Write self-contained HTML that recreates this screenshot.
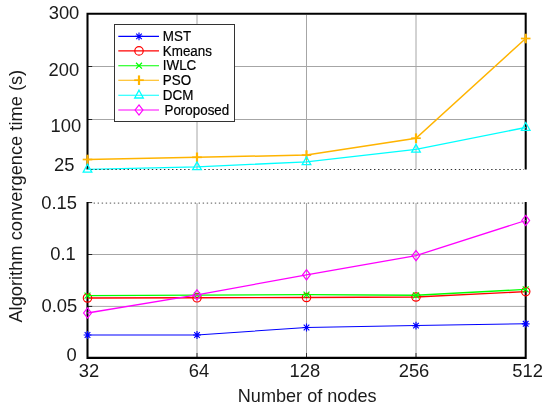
<!DOCTYPE html>
<html lang="en">
<head>
<meta charset="utf-8">
<title>Algorithm convergence time</title>
<style>
html,body{margin:0;padding:0;background:#fff;}
body{width:550px;height:410px;overflow:hidden;}
svg{display:block;}
text{font-family:"Liberation Sans",Arial,sans-serif;fill:#1a1a1a;}
.t{font-size:18px;}
.l{font-size:14.7px;fill:#000;stroke:#000;stroke-width:0.2px;}
</style>
</head>
<body>
<svg width="550" height="410" viewBox="0 0 550 410">
<rect width="550" height="410" fill="#fff"/>

<g stroke="#a6a6a6" stroke-width="1" fill="none">
<path d="M197.0,15V169.5M197.0,203V357"/>
<path d="M306.5,15V169.5M306.5,203V357"/>
<path d="M416.0,15V169.5M416.0,203V357"/>
<path d="M88,66.5H525"/>
<path d="M88,119.5H525"/>
<path d="M88,254.5H525"/>
<path d="M88,306.4H525"/>
</g>
<path d="M93.6,203.2H524" stroke="#777" stroke-width="1.3" stroke-dasharray="1.4 2.64" fill="none"/>
<path d="M197,353V357M306.5,353V357M416,353V357" stroke="#333" stroke-width="1" fill="none"/>
<path d="M88,66.5H92.2M88,119.5H92.2M88,254.5H92.2M88,306.4H92.2M88,202.6H92.2" stroke="#222" stroke-width="1" fill="none"/>
<path d="M87.5,169.6V13.8H525.7V169.6" stroke="#000" stroke-width="2.05" fill="none"/>
<path d="M87.5,202.1V357.85H525.7V202.1" stroke="#000" stroke-width="2.05" fill="none"/>
<polyline points="87.5,335 197,335 306.5,327.5 416,325.6 525.7,323.8" stroke="#0000ff" stroke-width="1.05" fill="none"/>
<path d="M83.6,335H91.4M87.5,331.1V338.9M84.7,332.2L90.3,337.8M84.7,337.8L90.3,332.2" stroke="#0000ff" stroke-width="1.15" fill="none"/>
<path d="M193.1,335H200.9M197,331.1V338.9M194.2,332.2L199.8,337.8M194.2,337.8L199.8,332.2" stroke="#0000ff" stroke-width="1.15" fill="none"/>
<path d="M302.6,327.5H310.4M306.5,323.6V331.4M303.7,324.7L309.3,330.3M303.7,330.3L309.3,324.7" stroke="#0000ff" stroke-width="1.15" fill="none"/>
<path d="M412.1,325.6H419.9M416,321.70000000000005V329.5M413.2,322.8L418.8,328.40000000000003M413.2,328.40000000000003L418.8,322.8" stroke="#0000ff" stroke-width="1.15" fill="none"/>
<path d="M521.8000000000001,323.8H529.6M525.7,319.90000000000003V327.7M522.9000000000001,321.0L528.5,326.6M522.9000000000001,326.6L528.5,321.0" stroke="#0000ff" stroke-width="1.15" fill="none"/>
<polyline points="87.5,298 197,297.8 306.5,297.5 416,297 525.7,291.6" stroke="#ff0000" stroke-width="1.4" fill="none"/>
<circle cx="87.5" cy="298" r="4.2" stroke="#ff0000" stroke-width="1.2" fill="none"/>
<circle cx="197" cy="297.8" r="4.2" stroke="#ff0000" stroke-width="1.2" fill="none"/>
<circle cx="306.5" cy="297.5" r="4.2" stroke="#ff0000" stroke-width="1.2" fill="none"/>
<circle cx="416" cy="297" r="4.2" stroke="#ff0000" stroke-width="1.2" fill="none"/>
<circle cx="525.7" cy="291.6" r="4.2" stroke="#ff0000" stroke-width="1.2" fill="none"/>
<polyline points="87.5,295.6 197,295.1 306.5,294.6 416,295.3 525.7,289.4" stroke="#00ff00" stroke-width="1.4" fill="none"/>
<path d="M84.55,292.65000000000003L90.45,298.55M84.55,298.55L90.45,292.65000000000003" stroke="#00ff00" stroke-width="1.2" fill="none"/>
<path d="M194.05,292.15000000000003L199.95,298.05M194.05,298.05L199.95,292.15000000000003" stroke="#00ff00" stroke-width="1.2" fill="none"/>
<path d="M303.55,291.65000000000003L309.45,297.55M303.55,297.55L309.45,291.65000000000003" stroke="#00ff00" stroke-width="1.2" fill="none"/>
<path d="M413.05,292.35L418.95,298.25M413.05,298.25L418.95,292.35" stroke="#00ff00" stroke-width="1.2" fill="none"/>
<path d="M522.75,286.45L528.6500000000001,292.34999999999997M522.75,292.34999999999997L528.6500000000001,286.45" stroke="#00ff00" stroke-width="1.2" fill="none"/>
<polyline points="87.5,159.5 197,157.3 306.5,155.1 416,138.2 525.7,38.5" stroke="#ffb400" stroke-width="1.5" fill="none"/>
<path d="M82.7,159.5H92.3" stroke="#ffb400" stroke-width="1.7" fill="none"/><path d="M87.5,154.7V164.3" stroke="#ffb400" stroke-width="2.2" fill="none"/>
<path d="M192.2,157.3H201.8" stroke="#ffb400" stroke-width="1.7" fill="none"/><path d="M197,152.5V162.10000000000002" stroke="#ffb400" stroke-width="2.2" fill="none"/>
<path d="M301.7,155.1H311.3" stroke="#ffb400" stroke-width="1.7" fill="none"/><path d="M306.5,150.29999999999998V159.9" stroke="#ffb400" stroke-width="2.2" fill="none"/>
<path d="M411.2,138.2H420.8" stroke="#ffb400" stroke-width="1.7" fill="none"/><path d="M416,133.39999999999998V143.0" stroke="#ffb400" stroke-width="2.2" fill="none"/>
<path d="M520.9000000000001,38.5H530.5" stroke="#ffb400" stroke-width="1.7" fill="none"/><path d="M525.7,33.7V43.3" stroke="#ffb400" stroke-width="2.2" fill="none"/>
<polyline points="87.5,169.3 197,166.9 306.5,161.8 416,149.4 525.7,127.5" stroke="#00ffff" stroke-width="1.3" fill="none"/>
<path d="M91.2,169.5H524" stroke="#333" stroke-width="1.2" stroke-dasharray="1.4 2.64" fill="none"/>
<path d="M87.5,164.3L91.8,172.10000000000002H83.2Z" stroke="#00ffff" stroke-width="1.3" fill="none"/>
<path d="M197,161.9L201.3,169.70000000000002H192.7Z" stroke="#00ffff" stroke-width="1.3" fill="none"/>
<path d="M306.5,156.8L310.8,164.60000000000002H302.2Z" stroke="#00ffff" stroke-width="1.3" fill="none"/>
<path d="M416,144.4L420.3,152.20000000000002H411.7Z" stroke="#00ffff" stroke-width="1.3" fill="none"/>
<path d="M525.7,122.5L530.0,130.3H521.4000000000001Z" stroke="#00ffff" stroke-width="1.3" fill="none"/>
<polyline points="87.5,313 197,294.9 306.5,274.8 416,255.6 525.7,220.5" stroke="#ff00ff" stroke-width="1.3" fill="none"/>
<path d="M87.5,307.9L91.4,313L87.5,318.1L83.6,313Z" stroke="#ff00ff" stroke-width="1.2" fill="none"/>
<path d="M197,289.79999999999995L200.9,294.9L197,300.0L193.1,294.9Z" stroke="#ff00ff" stroke-width="1.2" fill="none"/>
<path d="M306.5,269.7L310.4,274.8L306.5,279.90000000000003L302.6,274.8Z" stroke="#ff00ff" stroke-width="1.2" fill="none"/>
<path d="M416,250.5L419.9,255.6L416,260.7L412.1,255.6Z" stroke="#ff00ff" stroke-width="1.2" fill="none"/>
<path d="M525.7,215.4L529.6,220.5L525.7,225.6L521.8000000000001,220.5Z" stroke="#ff00ff" stroke-width="1.2" fill="none"/>
<rect x="114.5" y="24.5" width="120" height="97" fill="#fff" stroke="#333" stroke-width="1"/>
<path d="M118.3,36.4H159" stroke="#0000ff" stroke-width="1.1" fill="none"/>
<path d="M135.1,36.4H142.9M139,32.5V40.3M136.2,33.6L141.8,39.199999999999996M136.2,39.199999999999996L141.8,33.6" stroke="#0000ff" stroke-width="1.15" fill="none"/>
<text class="l" transform="translate(162.8,41.1) scale(0.912,1)">MST</text>
<path d="M118.3,50.9H159" stroke="#ff0000" stroke-width="1.1" fill="none"/>
<circle cx="139" cy="50.9" r="4.2" stroke="#ff0000" stroke-width="1.2" fill="none"/>
<text class="l" transform="translate(162.8,55.6) scale(0.912,1)">Kmeans</text>
<path d="M118.3,65.7H159" stroke="#00ff00" stroke-width="1.1" fill="none"/>
<path d="M136.05,62.75L141.95,68.65M136.05,68.65L141.95,62.75" stroke="#00ff00" stroke-width="1.2" fill="none"/>
<text class="l" transform="translate(162.8,70.4) scale(0.912,1)">IWLC</text>
<path d="M118.3,80.2H159" stroke="#ffb400" stroke-width="1.1" fill="none"/>
<path d="M134.2,80.2H143.8" stroke="#ffb400" stroke-width="1.7" fill="none"/><path d="M139,75.4V85.0" stroke="#ffb400" stroke-width="2.2" fill="none"/>
<text class="l" transform="translate(162.8,84.9) scale(0.912,1)">PSO</text>
<path d="M118.3,95.2H159" stroke="#00ffff" stroke-width="1.1" fill="none"/>
<path d="M139,90.2L143.3,98.0H134.7Z" stroke="#00ffff" stroke-width="1.3" fill="none"/>
<text class="l" transform="translate(162.8,99.9) scale(0.912,1)">DCM</text>
<path d="M118.3,110H159" stroke="#ff00ff" stroke-width="1.1" fill="none"/>
<path d="M139,104.9L142.9,110L139,115.1L135.1,110Z" stroke="#ff00ff" stroke-width="1.2" fill="none"/>
<text class="l" transform="translate(164.5,114.7) scale(0.912,1)">Poroposed</text>
<text class="t" transform="translate(64.0,19.3) scale(1.022,1)" text-anchor="middle">300</text>
<text class="t" transform="translate(63.9,76.0) scale(1.022,1)" text-anchor="middle">200</text>
<text class="t" transform="translate(65.9,132.29999999999998) scale(1.022,1)" text-anchor="middle">100</text>
<text class="t" transform="translate(64.3,170.85) scale(1.022,1)" text-anchor="middle">25</text>
<text class="t" transform="translate(59.1,208.85) scale(1.022,1)" text-anchor="middle">0.15</text>
<text class="t" transform="translate(63,260.0) scale(1.022,1)" text-anchor="middle">0.1</text>
<text class="t" transform="translate(59.3,312.3) scale(1.022,1)" text-anchor="middle">0.05</text>
<text class="t" transform="translate(71.5,361.2) scale(1.022,1)" text-anchor="middle">0</text>
<text class="t" transform="translate(89.0,377.2) scale(1.022,1)" text-anchor="middle">32</text>
<text class="t" transform="translate(198.9,377.2) scale(1.022,1)" text-anchor="middle">64</text>
<text class="t" transform="translate(304.8,377.2) scale(1.022,1)" text-anchor="middle">128</text>
<text class="t" transform="translate(414,377.2) scale(1.022,1)" text-anchor="middle">256</text>
<text class="t" transform="translate(527.6,377.2) scale(1.022,1)" text-anchor="middle">512</text>
<text class="t" transform="translate(307.2,401.6) scale(1.006,1)" text-anchor="middle">Number of nodes</text>
<text class="t" transform="translate(21.5,196.2) rotate(-90) scale(1.016,1)" text-anchor="middle">Algorithm convergence time (s)</text>
</svg>
</body>
</html>
